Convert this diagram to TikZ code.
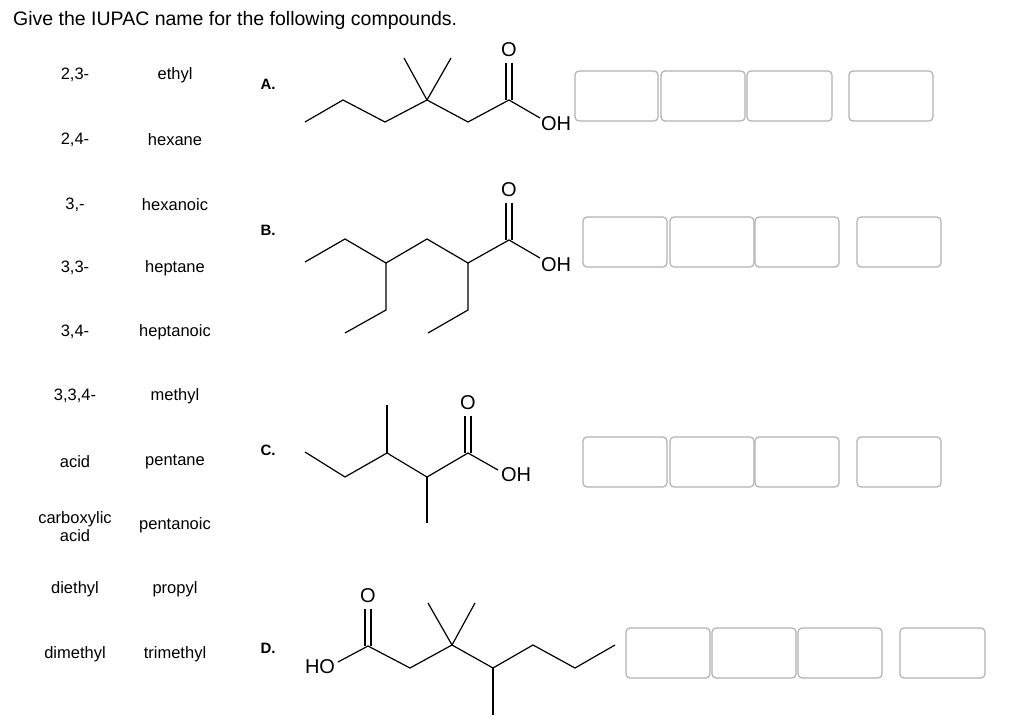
\documentclass[tikz,border=0pt]{standalone}
\usepackage{fontspec}
\setmainfont{Liberation Sans}
\begin{document}
\begin{tikzpicture}[x=1pt,y=-1pt,
  word/.style={font=\fontsize{16.5}{17}\selectfont,align=center,inner sep=0},
  lab/.style={font=\bfseries\fontsize{15}{16}\selectfont,inner sep=0},
  atom/.style={font=\fontsize{20}{21}\selectfont,inner sep=0},
  ansbox/.style={draw=black!30,line width=1.2pt,rounded corners=4pt,fill=white},
  bond/.style={line width=1.2pt,line join=round}]
\useasboundingbox (0,0) rectangle (1024,727);
\node[anchor=west,font=\fontsize{19.5}{21}\selectfont,inner sep=0] (title) at (13,20) {Give the IUPAC name for the following compounds.};
% word bank
\foreach \n/\a/\b/\y in {1/{2,3-}/ethyl/75, 2/{2,4-}/hexane/140, 3/{3,-}/hexanoic/205, 4/{3,3-}/heptane/268, 5/{3,4-}/heptanoic/332, 6/{3,3,4-}/methyl/396, 7/acid/pentane/462, 9/diethyl/propyl/589, 10/dimethyl/trimethyl/654}{
  \node[word] (l\n) at (75,\y) {\a};
  \node[word] (r\n) at (175,\y) {\b};}
\node[word] (l8) at (75,527) {carboxylic\\[1pt]acid};
\node[word] (r8) at (175,525) {pentanoic};
% labels
\node[lab] (A) at (268,84) {A.};
\node[lab] (B) at (268,230) {B.};
\node[lab] (C) at (268,450) {C.};
\node[lab] (D) at (268,648) {D.};
% boxes
\foreach \i/\x/\w in {1/575/83,2/661/84,3/747/85,4/849/84}{
  \draw[ansbox] (\x,71) rectangle ++(\w,50);}
\foreach \i/\x/\w in {1/583/84,2/670/84,3/755/84,4/857/84}{
  \draw[ansbox] (\x,217) rectangle ++(\w,50);
  \draw[ansbox] (\x,437) rectangle ++(\w,50);}
\foreach \i/\x/\w in {1/626/84,2/712/84,3/798/84,4/900/85}{
  \draw[ansbox] (\x,628) rectangle ++(\w,50);}
% A
\node[atom] (AO) at (509,50) {O};
\node[atom] (AOH) at (556,124) {OH};
\draw[bond] (305,122)--(343,100)--(385,122)--(427,100)--(468,122)--(509,100)--(540,118);
\draw[bond] (404,58)--(427,100)--(451,58);
\draw[bond] (506,100)--(506,63) (512,100)--(512,63);
% B
\node[atom] (BO) at (509,190) {O};
\node[atom] (BOH) at (556,265) {OH};
\draw[bond] (305,262)--(345,239)--(386,263)--(427,239)--(468,263)--(509,240)--(540,258);
\draw[bond] (386,263)--(386,310)--(345,333);
\draw[bond] (468,263)--(468,310)--(428,333);
\draw[bond] (506,240)--(506,203) (512,240)--(512,203);
% C
\node[atom] (CO) at (468,403) {O};
\node[atom] (COH) at (516,475) {OH};
\draw[bond] (305,452)--(345,477)--(387,453)--(427,477)--(468,453)--(498,470);
\draw[bond] (387,453)--(387,405);
\draw[bond] (427,477)--(427,523);
\draw[bond] (465,453)--(465,416) (471,453)--(471,416);
% D
\node[atom] (DO) at (368,596) {O};
\node[atom] (DHO) at (320,667) {HO};
\draw[bond] (338,662)--(368,646)--(410,668)--(452,645)--(493,668)--(533,645)--(575,668)--(615,645);
\draw[bond] (428,603)--(452,645)--(475,603);
\draw[bond] (493,668)--(493,715);
\draw[bond] (365,646)--(365,609) (371,646)--(371,609);
\end{tikzpicture}
\end{document}
